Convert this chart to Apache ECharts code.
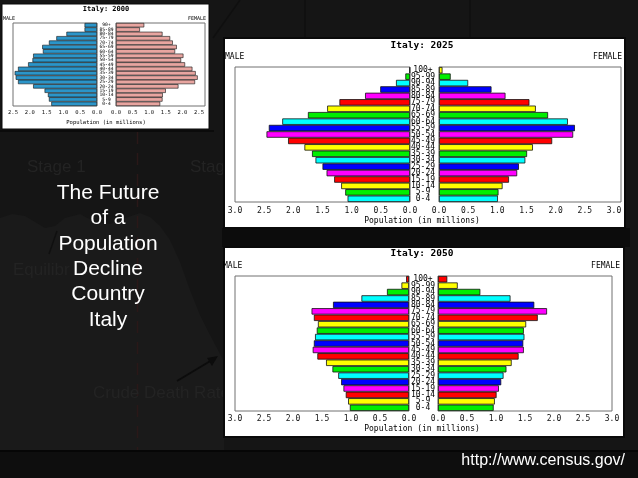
<!DOCTYPE html>
<html>
<head>
<meta charset="utf-8">
<script src="https://cdn.jsdelivr.net/npm/echarts@6/dist/echarts.min.js"></script>
<style>html,body{margin:0;padding:0;background:#151515;}#c{width:638px;height:478px;}</style>
</head>
<body>
<div id="c"></div>
<script>
// ---- data (ordered bottom -> top, i.e. youngest first) ----
const ages21 = ['0-4','5-9','10-14','15-19','20-24','25-29','30-34','35-39','40-44','45-49','50-54','55-59','60-64','65-69','70-74','75-79','80-84','85-89','90-94','95-99','100+'];
const ages19 = ['0-4','5-9','10-14','15-19','20-24','25-29','30-34','35-39','40-44','45-49','50-54','55-59','60-64','65-69','70-74','75-79','80-84','85-89','90+'];

const male2000   = [1.36,1.43,1.46,1.56,1.90,2.35,2.42,2.45,2.35,2.05,1.92,1.90,1.61,1.63,1.43,1.21,0.91,0.37,0.37];
const female2000 = [1.33,1.40,1.41,1.50,1.88,2.38,2.46,2.40,2.30,2.08,1.96,2.03,1.78,1.83,1.71,1.63,1.40,0.72,0.85];

const male2025   = [1.07,1.11,1.18,1.30,1.43,1.50,1.62,1.68,1.81,2.09,2.46,2.42,2.19,1.75,1.42,1.21,0.77,0.51,0.24,0.08,0.01];
const female2025 = [1.01,1.02,1.09,1.20,1.34,1.37,1.48,1.51,1.61,1.94,2.30,2.33,2.21,1.87,1.66,1.55,1.14,0.90,0.50,0.20,0.06];

const male2050   = [1.02,1.05,1.09,1.13,1.17,1.22,1.32,1.43,1.58,1.66,1.64,1.62,1.59,1.57,1.64,1.68,1.31,0.82,0.38,0.13,0.05];
const female2050 = [0.96,0.98,1.01,1.05,1.09,1.13,1.18,1.27,1.39,1.48,1.47,1.49,1.48,1.52,1.72,1.88,1.66,1.25,0.73,0.34,0.16];

const slideLines = ['The Future','of a','Population','Decline','Country','Italy'];

// ---- styling ----
const palette2025 = ['#00ffff','#00ee00','#ffff00','#ff0000','#ff00ff','#0000ff'];
const palette2050 = ['#00ee00','#ffff00','#ff0000','#ff00ff','#0000ff','#00ffff'];
const MONO = '"DejaVu Sans Mono", "Liberation Mono", monospace';
const SANS = '"Liberation Sans", Arial, sans-serif';

function tickFmt(v){ return Math.abs(v*2 - Math.round(v*2)) < 1e-6 ? v.toFixed(1) : ''; }

function xAx(grid, max, inverse, fs, margin){
  return {type:'value', gridIndex:grid, min:0, max:max, interval:0.5, inverse:inverse,
    axisLine:{show:false}, axisTick:{show:false}, splitLine:{show:false},
    axisLabel:{fontSize:fs, fontFamily:MONO, color:'#111', margin:margin, formatter:tickFmt, showMinLabel:true, showMaxLabel:true}};
}
function yAx(grid, cats, showLabels, fs, margin){
  return {type:'category', gridIndex:grid, data:cats,
    axisLine:{show:false}, axisTick:{show:false}, splitLine:{show:false},
    axisLabel:{show:showLabels, interval:0, fontSize:fs, fontFamily:MONO, color:'#000', align:'center', margin:margin}};
}
function barS(idx, data, colorFn, bw){
  return {type:'bar', xAxisIndex:idx, yAxisIndex:idx, data:data, barCategoryGap:'0%', silent:true,
    itemStyle:{color:colorFn, borderColor:'#111', borderWidth:bw}};
}

const gridStyle = {show:true, borderColor:'#707070', borderWidth:1, backgroundColor:'transparent', containLabel:false};

const graphics = [];
// background layers
graphics.push({type:'polygon', z:-20, silent:true, shape:{points:[[0,218],[12,214],[25,216],[35,222],[45,228],[55,226],[65,218],[80,214],[95,222],[110,224],[125,218],[140,213],[150,217],[160,226],[170,240],[180,262],[190,290],[200,315],[210,335],[218,350],[224,362],[224,452],[0,452]]}, style:{fill:'#1a1a1a'}});
graphics.push({type:'rect', z:-19, silent:true, shape:{x:0,y:450,width:638,height:28}, style:{fill:'#0e0e0e'}});
graphics.push({type:'line', z:-18, silent:true, shape:{x1:0,y1:451,x2:638,y2:451}, style:{stroke:'#060606', lineWidth:2}});
graphics.push({type:'line', z:-18, silent:true, shape:{x1:137.5,y1:132,x2:137.5,y2:450}, style:{stroke:'#2a1818', lineWidth:1.5, lineDash:[12,9]}});
graphics.push({type:'line', z:-18, silent:true, shape:{x1:305,y1:0,x2:305,y2:38}, style:{stroke:'#0f0f0f', lineWidth:1.5}});
graphics.push({type:'line', z:-18, silent:true, shape:{x1:470,y1:0,x2:470,y2:38}, style:{stroke:'#0f0f0f', lineWidth:1.5}});
graphics.push({type:'line', z:-18, silent:true, shape:{x1:213,y1:38,x2:240,y2:0}, style:{stroke:'#0f0f0f', lineWidth:1.5}});
graphics.push({type:'line', z:-18, silent:true, shape:{x1:0,y1:131,x2:214,y2:131}, style:{stroke:'#0b0b0b', lineWidth:2}});
graphics.push({type:'line', z:-18, silent:true, shape:{x1:49,y1:254,x2:57,y2:231}, style:{stroke:'#101010', lineWidth:1.5}});
// ghost text from underlying slide
[['Stage 1',27,167],['Stage 2',190,167],['Equilibr',13,270],['Crude Death Rate',93,393]].forEach(function(t){
  graphics.push({type:'text', z:-15, silent:true, style:{text:t[0], x:t[1], y:t[2], fill:'#232323', font:'17px '+SANS, verticalAlign:'middle', align:'left'}});
});
// arrow
graphics.push({type:'line', z:-15, silent:true, shape:{x1:177,y1:381,x2:212,y2:360}, style:{stroke:'#0c0c0c', lineWidth:2}});
graphics.push({type:'polygon', z:-15, silent:true, shape:{points:[[218,356],[207,358],[212,366]]}, style:{fill:'#0c0c0c'}});
// dark band between panels
graphics.push({type:'rect', z:-14, silent:true, shape:{x:222,y:228,width:408,height:19}, style:{fill:'#0c0c0c'}});

// panels
graphics.push({type:'rect', z:-5, silent:true, shape:{x:2,y:4,width:207,height:125}, style:{fill:'#ffffff', stroke:'#0a0a0a', lineWidth:1}});
graphics.push({type:'rect', z:-5, silent:true, shape:{x:224,y:38,width:401,height:190}, style:{fill:'#ffffff', stroke:'#0a0a0a', lineWidth:2}});
graphics.push({type:'rect', z:-5, silent:true, shape:{x:224,y:247,width:400,height:190}, style:{fill:'#ffffff', stroke:'#0a0a0a', lineWidth:2}});

// panel texts
function txt(s, x, y, size, align, bold){
  graphics.push({type:'text', z:10, silent:true, style:{text:s, x:x, y:y, fill:'#000', font:(bold?'bold ':'')+size+'px '+MONO, align:align, verticalAlign:'middle'}});
}
txt('Italy: 2000', 106, 9.5, 7, 'center', true);
txt('MALE', 3, 19, 5, 'left', false);
txt('FEMALE', 206, 19, 5, 'right', false);
txt('Population (in millions)', 106, 123, 5.5, 'center', false);

txt('Italy: 2025', 422, 46, 9.5, 'center', true);
txt('MALE', 225, 57, 8, 'left', false);
txt('FEMALE', 622, 57, 8, 'right', false);
txt('Population (in millions)', 422, 221, 8, 'center', false);

txt('Italy: 2050', 422, 254, 9.5, 'center', true);
txt('MALE', 223, 266, 8, 'left', false);
txt('FEMALE', 620, 266, 8, 'right', false);
txt('Population (in millions)', 422, 429, 8, 'center', false);

// slide title text
slideLines.forEach(function(s, i){
  graphics.push({type:'text', z:10, silent:true, style:{text:s, x:108, y:193 + i*25.4, fill:'#ffffff', font:'21px '+SANS, align:'center', verticalAlign:'middle'}});
});
graphics.push({type:'text', z:10, silent:true, style:{text:'http://www.census.gov/', x:625, y:461, fill:'#ffffff', font:'16px '+SANS, align:'right', verticalAlign:'middle'}});

const option = {
  backgroundColor:'#151515',
  animation:false,
  grid:[
    Object.assign({left:13, top:23, width:84, height:83}, gridStyle),
    Object.assign({left:116, top:23, width:89, height:83}, gridStyle),
    Object.assign({left:235, top:67, width:175, height:135}, gridStyle),
    Object.assign({left:439, top:67, width:182, height:135}, gridStyle),
    Object.assign({left:235, top:276, width:174, height:135}, gridStyle),
    Object.assign({left:438, top:276, width:174, height:135}, gridStyle)
  ],
  xAxis:[
    xAx(0, 2.5, true, 5.5, 4),
    xAx(1, 2.68, false, 5.5, 4),
    xAx(2, 3.0, true, 8, 5),
    xAx(3, 3.12, false, 8, 5),
    xAx(4, 3.0, true, 8, 4),
    xAx(5, 3.0, false, 8, 4)
  ],
  yAxis:[
    yAx(0, ages19, false, 5, 0),
    yAx(1, ages19, true, 4.6, 9.5),
    yAx(2, ages21, false, 8, 0),
    yAx(3, ages21, true, 8, 16),
    yAx(4, ages21, false, 8, 0),
    yAx(5, ages21, true, 8, 15)
  ],
  series:[
    barS(0, male2000, '#2b95c9', 0.6),
    barS(1, female2000, '#e8a5a0', 0.6),
    barS(2, male2025, function(p){return palette2025[p.dataIndex % 6];}, 0.8),
    barS(3, female2025, function(p){return palette2025[p.dataIndex % 6];}, 0.8),
    barS(4, male2050, function(p){return palette2050[p.dataIndex % 6];}, 0.8),
    barS(5, female2050, function(p){return palette2050[p.dataIndex % 6];}, 0.8)
  ],
  graphic:{elements:graphics}
};

const chart = echarts.init(document.getElementById('c'), null, {renderer:'canvas'});
chart.setOption(option);
</script>
</body>
</html>
